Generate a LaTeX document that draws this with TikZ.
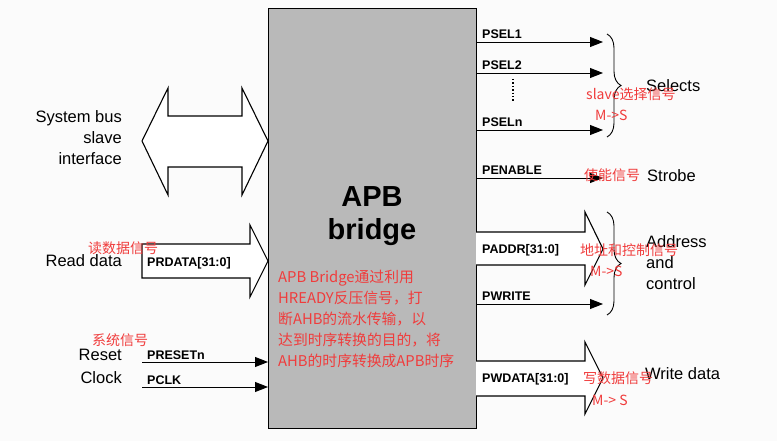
\documentclass[tikz,border=0pt]{standalone}
\usepackage{fontspec}
\setmainfont{Liberation Sans}
\newfontfamily\cjk{Noto Sans CJK SC}
\usetikzlibrary{arrows.meta,decorations.pathreplacing}
\definecolor{myred}{HTML}{F03C3C}
\definecolor{boxgray}{HTML}{B9B9B9}
\begin{document}
\begin{tikzpicture}[x=1pt,y=-1pt,
  sig/.style={font=\bfseries\fontsize{12.5}{14}\selectfont,anchor=south west,inner sep=1pt},
  lab/.style={font=\fontsize{16.5}{21}\selectfont,inner sep=0pt},
  red/.style={text=myred,font=\cjk\fontsize{14}{16}\selectfont,inner sep=0pt},
  wire/.style={line width=0.9pt,-{Triangle[length=13pt,width=10pt]}},
  fat/.style={line width=1.1pt,fill=white},
  brc/.style={decorate,decoration={brace,amplitude=14pt},line width=0.9pt}]
\useasboundingbox[fill=white!97!gray] (0,0) rectangle (777,441);
\node[draw,line width=1pt,fill=boxgray,minimum width=208pt,minimum height=420pt,anchor=north west,inner sep=0pt] (br) at (268,8) {};
\node[font=\bfseries\fontsize{29}{33}\selectfont,align=center] (apb) at (372,216) {APB\\bridge};
\node[red,anchor=north west,align=left,font=\cjk\fontsize{14.8}{21}\selectfont] (note) at (278,270) {APB Bridge通过利用\\HREADY反压信号，打\\断AHB的流水传输，以\\达到时序转换的目的，将\\AHB的时序转换成APB时序};
% double arrow
\draw[fat] (142,141) -- (168,88) -- (168,116) -- (242,116) -- (242,88) -- (268,141) -- (242,195) -- (242,167) -- (168,167) -- (168,195) -- cycle;
\node[lab,anchor=east,align=right] (sys) at (122,138) {System bus\\slave\\interface};
% PRDATA
\draw[fat] (142,244) -- (250,244) -- (250,225) -- (268,261) -- (250,297) -- (250,278) -- (142,278) -- cycle;
\node[sig] (prd) at (146,270) {PRDATA[31:0]};
\node[lab,anchor=east] (rd) at (122,261) {Read data};
\node[red] (rdr) at (123,248) {读数据信号};
% reset/clock
\coordinate (r0) at (142,362); \coordinate (r1) at (268,362);
\coordinate (c0) at (142,387); \coordinate (c1) at (268,387);
\draw[wire] (r0) -- (r1); \draw[wire] (c0) -- (c1);
\node[sig] at (146,361) {PRESETn};
\node[sig] at (146,386) {PCLK};
\node[lab,anchor=east] at (122,355) {Reset};
\node[lab,anchor=east] at (122,378) {Clock};
\node[red] at (120,340) {系统信号};
% right side
\foreach \y/\t in {42/PSEL1,73/PSEL2,130/PSELn,178/PENABLE,304/PWRITE}{
  \coordinate (a\t) at (476,\y); \coordinate (b\t) at (603,\y);
  \draw[wire] (a\t) -- (b\t);
  \node[sig] at (481,\y-2) {\t};
}
\draw[line width=1.4pt,dotted] (513,79) -- (513,102);
\draw[fat] (476,232) -- (585,232) -- (585,212) -- (603,249) -- (585,285) -- (585,265) -- (476,265);
\node[sig] at (481,257) {PADDR[31:0]};
\draw[fat] (476,361) -- (585,361) -- (585,342) -- (603,378) -- (585,414) -- (585,396) -- (476,396);
\node[sig] at (481,386) {PWDATA[31:0]};
\draw[brc] (607,34) -- (607,137);
\draw[brc] (607,212) -- (607,315);
\node[lab,anchor=west] at (646,86) {Selects};
\node[lab,anchor=west] at (647,176) {Strobe};
\node[lab,anchor=west,align=left] at (646,263) {Address\\and\\control};
\node[lab,anchor=west] at (645,374) {Write data};
\node[red,anchor=west] at (586,94) {slave选择信号};
\node[red,anchor=west] at (595,115) {M->S};
\node[red,anchor=west] at (584,175) {使能信号};
\node[red,anchor=west] at (580,250) {地址和控制信号};
\node[red,anchor=west] at (590,271) {M->S};
\node[red,anchor=west] at (583,378) {写数据信号};
\node[red,anchor=west] at (592,400) {M-> S};
\end{tikzpicture}
\end{document}
